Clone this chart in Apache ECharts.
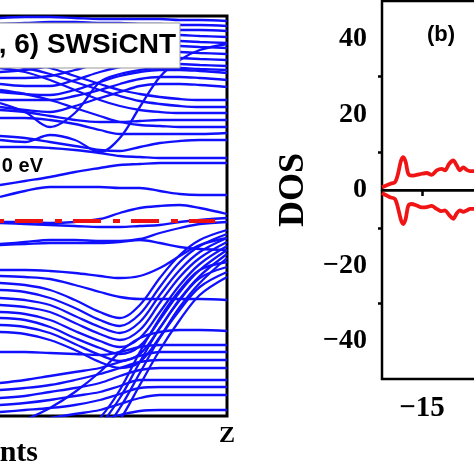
<!DOCTYPE html>
<html>
<head>
<meta charset="utf-8">
<script src="https://cdn.jsdelivr.net/npm/echarts@6/dist/echarts.min.js"></script>
<style>
  html, body { margin: 0; padding: 0; background: #fff; }
  #chart { width: 474px; height: 474px; }
</style>
</head>
<body>
<div id="chart"></div>
<script>
// (a) band structure, right half of the Γ-Z path (energies in eV, EF = 0)
var kPath = [0.5, 0.555, 0.61, 0.665, 0.72, 0.764, 0.808, 0.852, 0.896, 0.94, 1.0];
var kLabels = ['Γ', 'Z'];
var fermiK = [0.5, 0.974];

var upperBands = [
  [2.03, 2.04, 2.04, 2.03, 2.02, 2.02, 2.02, 2.02, 2.01, 2.01, 2.00],
  [1.97, 1.98, 1.99, 1.99, 1.98, 1.98, 1.97, 1.97, 1.96, 1.96, 1.95],
  [1.89, 1.91, 1.92, 1.93, 1.93, 1.93, 1.92, 1.92, 1.91, 1.91, 1.90],
  [1.79, 1.81, 1.83, 1.85, 1.87, 1.87, 1.87, 1.86, 1.86, 1.85, 1.84],
  [1.69, 1.71, 1.74, 1.77, 1.80, 1.81, 1.81, 1.81, 1.80, 1.79, 1.78],
  [1.59, 1.61, 1.65, 1.69, 1.73, 1.75, 1.76, 1.76, 1.75, 1.74, 1.73],
  [1.49, 1.51, 1.55, 1.61, 1.66, 1.69, 1.70, 1.70, 1.69, 1.68, 1.67],
  [1.43, 1.43, 1.45, 1.51, 1.58, 1.62, 1.64, 1.64, 1.63, 1.62, 1.61],
  [1.37, 1.35, 1.35, 1.41, 1.49, 1.54, 1.57, 1.58, 1.57, 1.56, 1.55],
  [1.29, 1.27, 1.26, 1.31, 1.39, 1.45, 1.49, 1.51, 1.51, 1.50, 1.48],
  [1.21, 1.21, 1.21, 1.25, 1.31, 1.37, 1.42, 1.44, 1.44, 1.43, 1.41],
  [1.14, 1.11, 1.09, 1.15, 1.23, 1.29, 1.35, 1.37, 1.37, 1.36, 1.34],
  [1.18, 1.09, 0.94, 1.08, 1.39, 1.47, 1.51, 1.53, 1.53, 1.52, 1.51],
  [1.63, 1.59, 1.53, 1.45, 1.37, 1.31, 1.27, 1.24, 1.22, 1.21, 1.21],
  [1.57, 1.53, 1.47, 1.39, 1.31, 1.25, 1.20, 1.17, 1.15, 1.14, 1.14],
  [1.53, 1.49, 1.41, 1.31, 1.21, 1.15, 1.11, 1.09, 1.08, 1.08, 1.08],
  [1.11, 1.09, 1.05, 1.01, 0.99, 0.99, 1.00, 1.01, 1.01, 1.01, 1.01],
  [1.31, 1.27, 1.21, 1.13, 1.05, 0.99, 0.96, 0.95, 0.94, 0.94, 0.94],
  [1.03, 1.03, 1.01, 0.97, 0.91, 0.87, 0.87, 0.87, 0.87, 0.87, 0.88],
  [0.81, 0.79, 0.86, 0.81, 0.69, 0.83, 1.14, 1.44, 1.61, 1.71, 1.77],
  [0.85, 0.83, 0.79, 0.75, 0.71, 0.70, 0.74, 0.78, 0.80, 0.81, 0.81]
];

var middleBands = [
  [0.74, 0.74, 0.73, 0.71, 0.68, 0.65, 0.64, 0.63, 0.63, 0.63, 0.63],
  [0.36, 0.40, 0.44, 0.49, 0.53, 0.56, 0.57, 0.58, 0.58, 0.58, 0.58],
  [0.24, 0.30, 0.34, 0.34, 0.34, 0.33, 0.33, 0.30, 0.27, 0.26, 0.26],
  [-0.01, -0.01, -0.02, -0.01, 0.02, 0.08, 0.13, 0.15, 0.16, 0.13, 0.07],
  [-0.02, -0.03, -0.04, -0.05, -0.06, -0.06, -0.05, -0.04, -0.01, 0.01, 0.03],
  [-0.23, -0.21, -0.19, -0.19, -0.20, -0.20, -0.18, -0.12, -0.07, -0.03, -0.01],
  [-0.24, -0.23, -0.22, -0.22, -0.22, -0.21, -0.19, -0.22, -0.26, -0.28, -0.29]
];

var lowerBands = [
  [-0.49, -0.49, -0.50, -0.52, -0.55, -0.57, -0.55, -0.47, -0.35, -0.24, -0.17],
  [-0.55, -0.56, -0.58, -0.64, -0.71, -0.76, -0.78, -0.78, -0.78, -0.78, -0.79],
  [-0.62, -0.64, -0.69, -0.79, -0.91, -0.97, -0.84, -0.57, -0.34, -0.19, -0.09],
  [-0.69, -0.71, -0.77, -0.87, -0.99, -1.05, -0.93, -0.66, -0.41, -0.25, -0.13],
  [-0.77, -0.79, -0.84, -0.95, -1.06, -1.12, -1.01, -0.74, -0.49, -0.31, -0.17],
  [-0.84, -0.86, -0.91, -1.02, -1.13, -1.19, -1.09, -0.82, -0.56, -0.37, -0.21],
  [-0.91, -0.93, -0.99, -1.10, -1.20, -1.26, -1.17, -0.91, -0.64, -0.43, -0.25],
  [-0.97, -0.99, -1.06, -1.17, -1.27, -1.33, -1.25, -0.99, -0.71, -0.49, -0.29],
  [-1.04, -1.06, -1.12, -1.23, -1.34, -1.40, -1.33, -1.07, -0.78, -0.55, -0.33],
  [-1.11, -1.13, -1.19, -1.29, -1.41, -1.47, -1.41, -1.16, -0.86, -0.62, -0.37],
  [-2.49, -2.39, -2.29, -2.19, -1.97, -1.69, -1.31, -0.97, -0.69, -0.49, -0.41],
  [-2.59, -2.49, -2.39, -2.24, -2.04, -1.77, -1.41, -1.07, -0.79, -0.57, -0.46],
  [-2.69, -2.59, -2.49, -2.34, -2.14, -1.87, -1.52, -1.17, -0.89, -0.66, -0.51],
  [-2.79, -2.69, -2.59, -2.44, -2.24, -1.99, -1.64, -1.29, -0.99, -0.74, -0.56],
  [-1.31, -1.31, -1.32, -1.33, -1.34, -1.31, -1.26, -1.24, -1.24, -1.24, -1.24],
  [-2.09, -1.99, -1.87, -1.71, -1.51, -1.31, -1.17, -1.11, -1.09, -1.09, -1.10],
  [-1.62, -1.59, -1.55, -1.51, -1.47, -1.41, -1.35, -1.31, -1.31, -1.31, -1.31],
  [-1.69, -1.67, -1.64, -1.59, -1.53, -1.47, -1.41, -1.39, -1.39, -1.39, -1.39],
  [-1.77, -1.75, -1.71, -1.67, -1.62, -1.55, -1.49, -1.47, -1.47, -1.47, -1.47],
  [-1.84, -1.82, -1.79, -1.75, -1.71, -1.65, -1.59, -1.59, -1.59, -1.59, -1.59],
  [-1.91, -1.89, -1.87, -1.84, -1.79, -1.73, -1.67, -1.66, -1.66, -1.66, -1.66],
  [-2.04, -2.01, -1.97, -1.93, -1.89, -1.83, -1.77, -1.74, -1.74, -1.74, -1.74],
  [-2.19, -2.14, -2.09, -2.04, -1.99, -1.94, -1.90, -1.89, -1.89, -1.89, -1.89]
];

// (b) density of states, spin up / spin down
var dosEnergy = [-17.67, -17.14, -16.8, -16.6, -16.4, -16.25, -16.09, -15.92, -15.69, -15.36, -15.02, -14.69, -14.36,
  -14.02, -13.69, -13.47, -13.2, -12.92, -12.69, -12.47, -12.25, -12.02, -11.8, -11.54, -11.14, -10.74];
var dosUp = [0.7, 1.6, 2.1, 4.3, 7.8, 8.7, 7.4, 4.3, 3.8, 4.0, 4.3, 4.5, 4.0,
  5.2, 5.6, 5.2, 6.9, 7.8, 6.5, 5.2, 6.0, 5.3, 5.0, 5.0, 5.5, 6.0];
var dosDown = [-0.8, -1.9, -2.4, -4.8, -8.0, -9.0, -7.6, -4.2, -3.7, -4.1, -4.6, -4.5, -4.2,
  -5.0, -5.6, -5.4, -6.6, -7.6, -6.2, -5.4, -5.8, -5.4, -5.0, -5.0, -5.4, -6.0];

var energyTicks = [-15, -10, -5, 0];
var dosTicks = [-40, -20, 0, 20, 40];
var dosMinorTicks = [-30, -10, 10, 30];

var serif = '"Liberation Serif", "Times New Roman", serif';
var sans = '"Liberation Sans", Arial, sans-serif';

function minus(v) {
  return String(v).replace('-', '\u2212');
}

var chart = echarts.init(document.getElementById('chart'), null, { renderer: 'canvas' });

var series = [];
upperBands.concat(middleBands, lowerBands).forEach(function (band) {
  series.push({
    type: 'line',
    xAxisIndex: 0,
    yAxisIndex: 0,
    smooth: 0.35,
    showSymbol: false,
    silent: true,
    lineStyle: { color: '#1010ff', width: 2.3 },
    data: kPath.map(function (k, i) { return [k, band[i]]; })
  });
});

// Fermi level
series.push({
  type: 'line',
  xAxisIndex: 0,
  yAxisIndex: 0,
  showSymbol: false,
  silent: true,
  z: 5,
  lineStyle: { color: '#ee1111', width: 4, type: [28, 12, 7, 11], dashOffset: 43, cap: 'butt' },
  data: fermiK.map(function (k) { return [k, 0]; })
});

series.push({
  type: 'line',
  xAxisIndex: 1,
  yAxisIndex: 1,
  smooth: 0.3,
  showSymbol: false,
  silent: true,
  lineStyle: { color: '#f01414', width: 3.8 },
  data: dosEnergy.map(function (e, i) { return [e, dosUp[i]]; }),
  markLine: {
    silent: true,
    symbol: 'none',
    label: { show: false },
    lineStyle: { color: '#000', width: 2, type: 'solid' },
    data: [{ yAxis: 0 }]
  }
});
series.push({
  type: 'line',
  xAxisIndex: 1,
  yAxisIndex: 1,
  smooth: 0.3,
  showSymbol: false,
  silent: true,
  lineStyle: { color: '#f01414', width: 3.8 },
  data: dosEnergy.map(function (e, i) { return [e, dosDown[i]]; })
});

chart.setOption({
  backgroundColor: '#ffffff',
  animation: false,
  grid: [
    { left: -227, top: 16, width: 454, height: 400, outerBoundsMode: 'none', containLabel: false,
      show: true, borderColor: '#000', borderWidth: 3 },
    { left: 382, top: 1, width: 340, height: 378, outerBoundsMode: 'none', containLabel: false,
      show: true, borderColor: '#000', borderWidth: 2.5 }
  ],
  xAxis: [
    {
      gridIndex: 0, type: 'value', min: 0, max: 1, interval: 1,
      axisLine: { show: false }, axisTick: { show: false }, splitLine: { show: false },
      axisLabel: {
        margin: 8, color: '#000', fontFamily: serif, fontWeight: 'bold', fontSize: 24,
        formatter: function (v) { return v === 1 ? kLabels[1] : kLabels[0]; }
      }
    },
    {
      gridIndex: 1, type: 'value', min: -17.67, max: 5,
      splitLine: { show: false },
      axisLine: { lineStyle: { color: '#000', width: 2.5 } },
      axisTick: { customValues: energyTicks, length: 6, lineStyle: { color: '#000', width: 2.5 } },
      axisLabel: {
        customValues: energyTicks, margin: 15, color: '#000',
        fontFamily: serif, fontWeight: 'bold', fontSize: 29, formatter: minus
      }
    }
  ],
  yAxis: [
    { gridIndex: 0, type: 'value', min: -1.95, max: 2.05, show: false, splitLine: { show: false } },
    {
      gridIndex: 1, type: 'value', min: -50, max: 50, position: 'left',
      splitLine: { show: false },
      axisLine: { lineStyle: { color: '#000', width: 2.5 } },
      axisTick: { customValues: dosTicks, length: 7, lineStyle: { color: '#000', width: 2.5 } },
      axisLabel: {
        customValues: dosTicks, margin: 15, color: '#000',
        fontFamily: serif, fontWeight: 'bold', fontSize: 28, formatter: minus
      },
      name: 'DOS',
      nameLocation: 'middle',
      nameGap: 64,
      nameTextStyle: { color: '#000', fontFamily: serif, fontWeight: 'bold', fontSize: 36 }
    },
    {
      gridIndex: 1, type: 'value', min: -50, max: 50, position: 'left', offset: 0,
      splitLine: { show: false },
      axisLine: { show: false },
      axisTick: { customValues: dosMinorTicks, length: 4, lineStyle: { color: '#000', width: 2.5 } },
      axisLabel: { show: false }
    }
  ],
  graphic: [
    {
      type: 'rect', z: 10,
      shape: { x: -10, y: 23, width: 190, height: 45 },
      style: { fill: '#fff', stroke: '#999', lineWidth: 1 }
    },
    {
      type: 'text', z: 11, x: 176, y: 45,
      style: { text: '(6, 6) SWSiCNT', fill: '#000', font: 'bold 28px ' + sans, textAlign: 'right', textVerticalAlign: 'middle' }
    },
    {
      type: 'text', z: 11, x: 43, y: 166,
      style: { text: 'Eg = 0 eV', fill: '#000', font: 'bold 20px ' + sans, textAlign: 'right', textVerticalAlign: 'middle' }
    },
    {
      type: 'text', z: 11, x: 38, y: 453,
      style: { text: 'k points', fill: '#000', font: 'bold 30px ' + serif, textAlign: 'right', textVerticalAlign: 'middle' }
    },
    {
      type: 'text', z: 11, x: 441, y: 35,
      style: { text: '(b)', fill: '#000', font: 'bold 22px ' + sans, textAlign: 'center', textVerticalAlign: 'middle' }
    }
  ],
  series: series
});
</script>
</body>
</html>
